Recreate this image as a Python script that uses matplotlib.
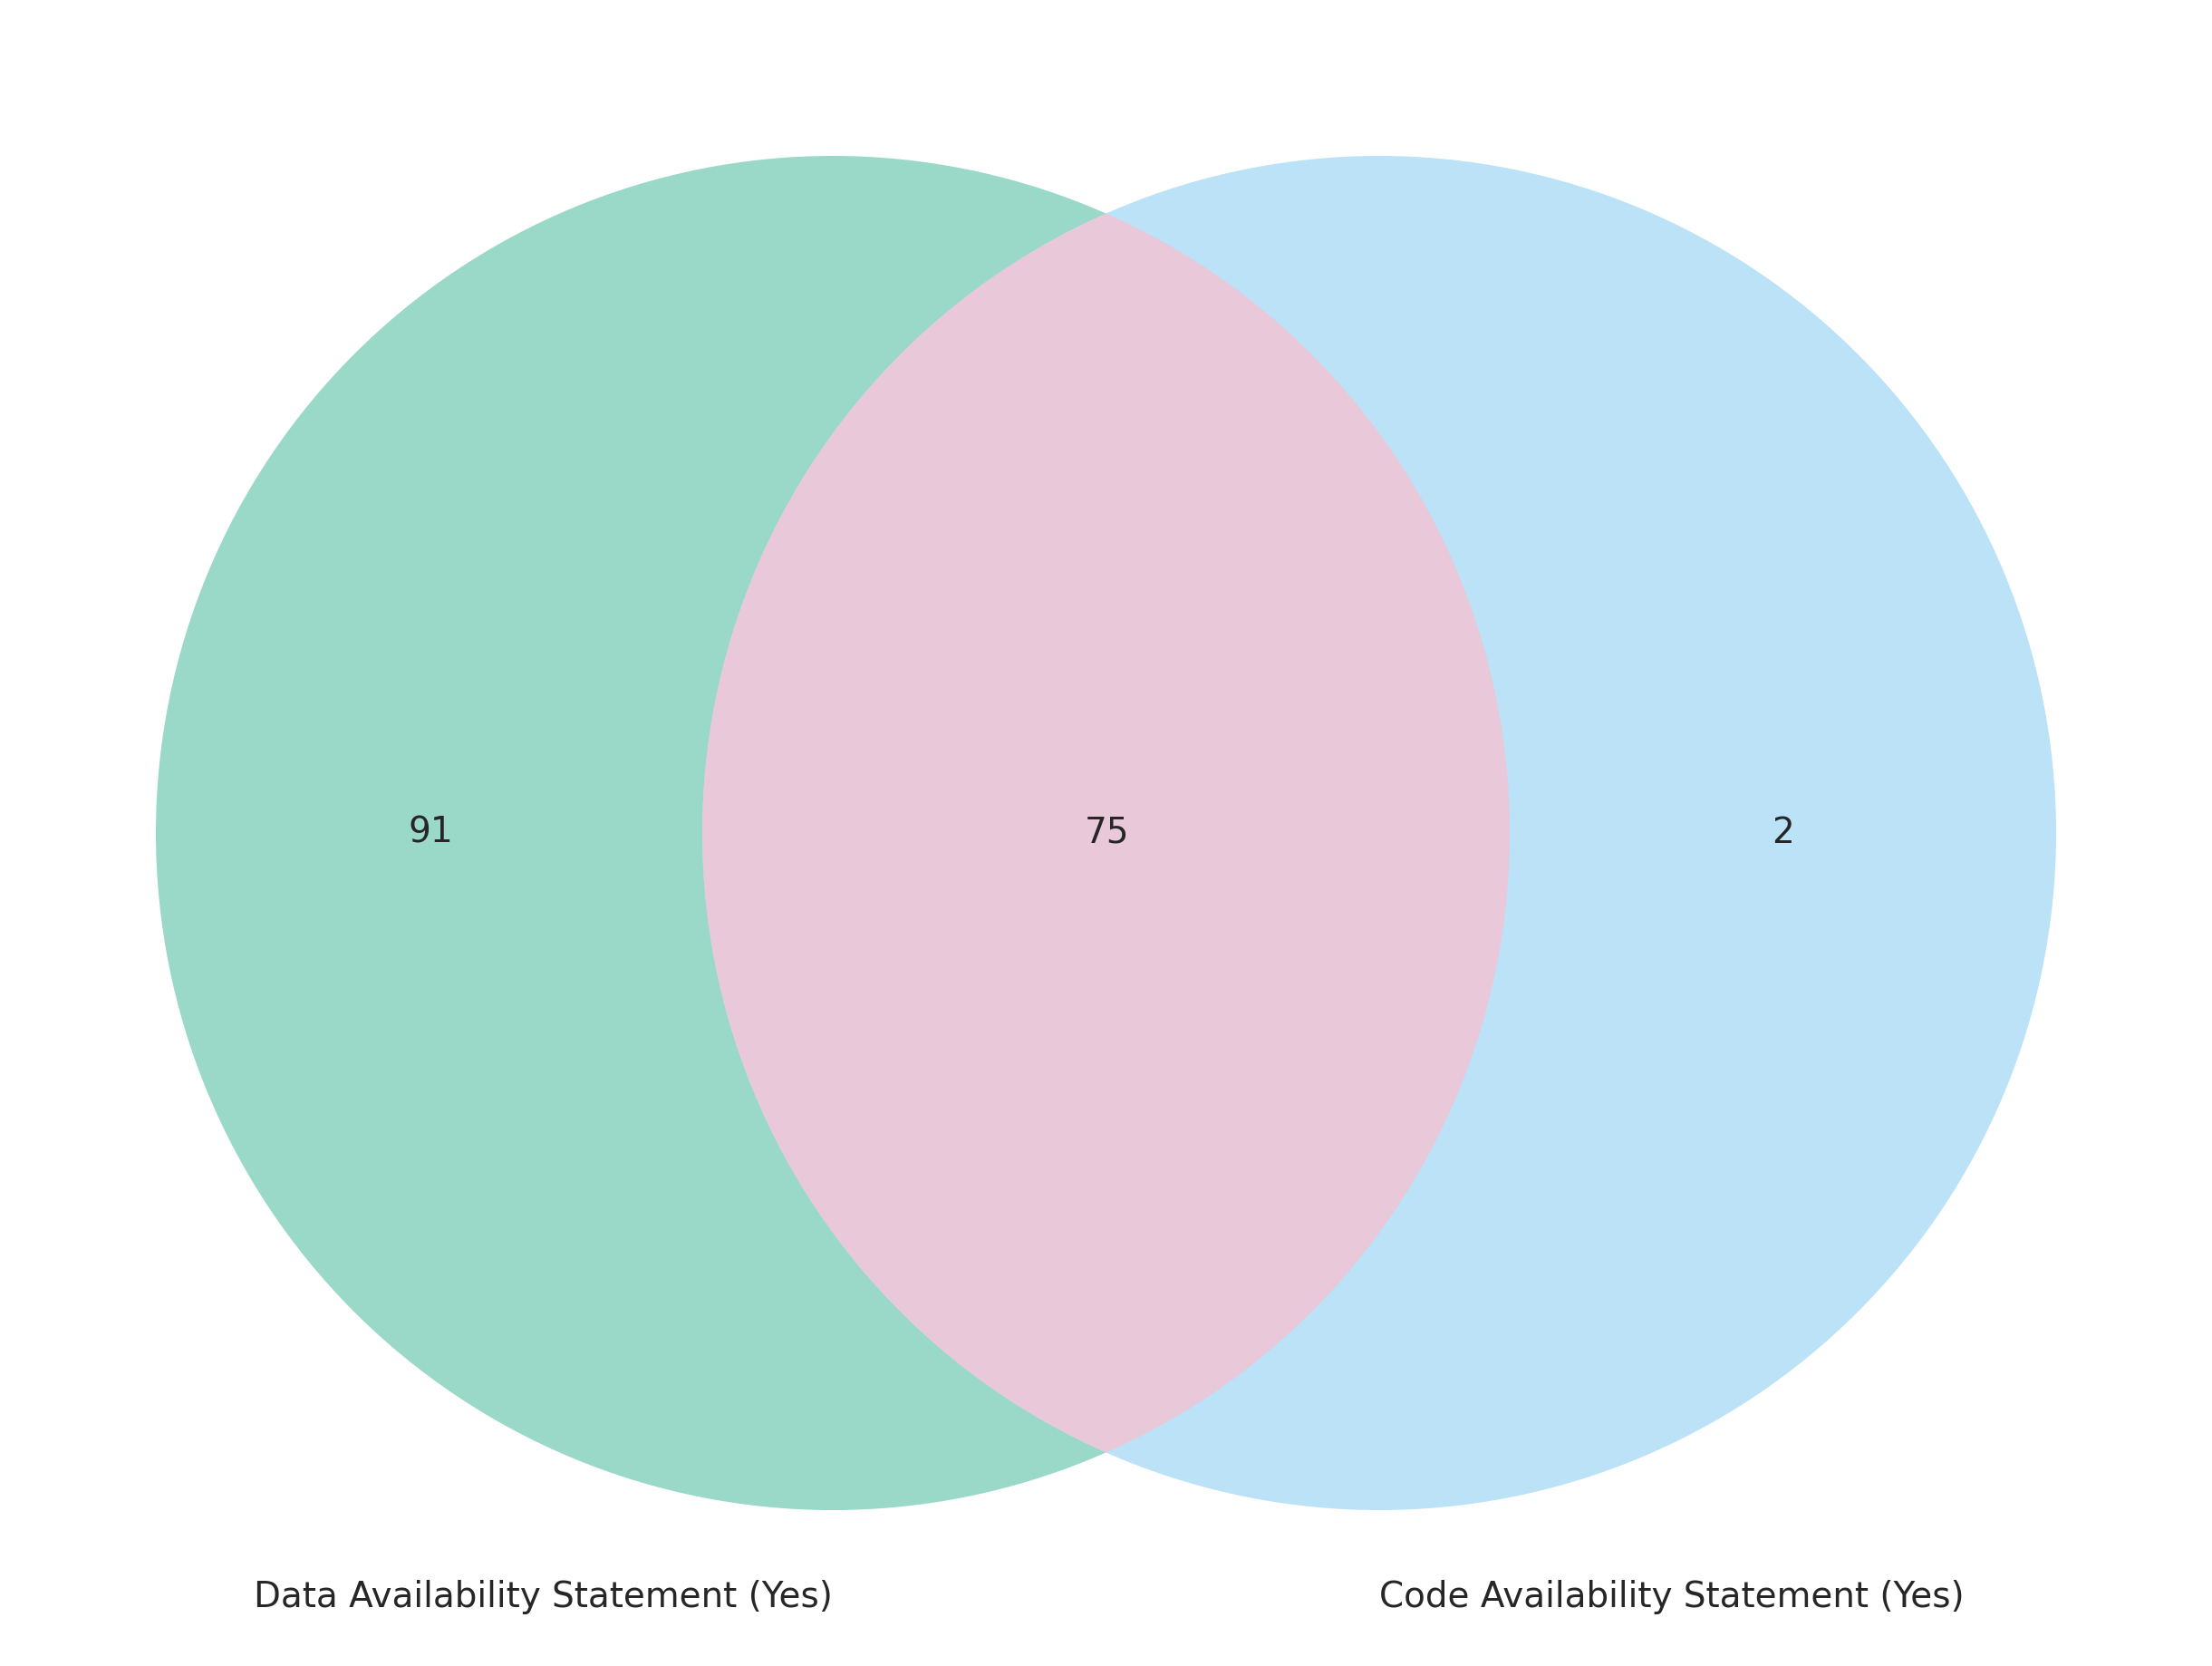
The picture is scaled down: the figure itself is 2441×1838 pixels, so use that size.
import matplotlib
matplotlib.use("Agg")
import matplotlib.pyplot as plt
from matplotlib.patches import Circle

# ---- data ----
set_labels = ["Data Availability Statement (Yes)", "Code Availability Statement (Yes)"]
region_labels = ["10", "11", "01"]
region_counts = [91, 75, 2]

# ---- style / layout ----
colors = {"left": "#9AD8C8", "right": "#BBE2F6", "both": "#E9C8DA"}
text_color = "#262626"
W, H = 2441, 1838
dpi = 200

fig = plt.figure(figsize=(W / dpi, H / dpi), dpi=dpi)
ax = fig.add_axes([0, 0, 1, 1])
ax.set_xlim(0, W)
ax.set_ylim(H, 0)
ax.axis("off")

r = 747
cy = 919
c_left = (919, cy)
c_right = (1522, cy)

left = Circle(c_left, r, facecolor=colors["left"], edgecolor="none", zorder=1)
right = Circle(c_right, r, facecolor=colors["right"], edgecolor="none", zorder=1)
ax.add_patch(left)
ax.add_patch(right)
clip = Circle(c_left, r, transform=ax.transData, facecolor="none", edgecolor="none")
both = Circle(c_right, r, facecolor=colors["both"], edgecolor="none", zorder=2)
ax.add_patch(both)
both.set_clip_path(clip)

label_x = {"10": 475, "11": 1221, "01": 1968}
for lab, cnt in zip(region_labels, region_counts):
    ax.text(label_x[lab], cy, str(cnt), ha="center", va="center",
            fontsize=14.0, color=text_color, zorder=3)

set_x = [599, 1845]
for x, s in zip(set_x, set_labels):
    ax.text(x, 1762, s, ha="center", va="center", fontsize=14.0,
            color=text_color, zorder=3)

fig.savefig("out.png", dpi=dpi, facecolor="white")
